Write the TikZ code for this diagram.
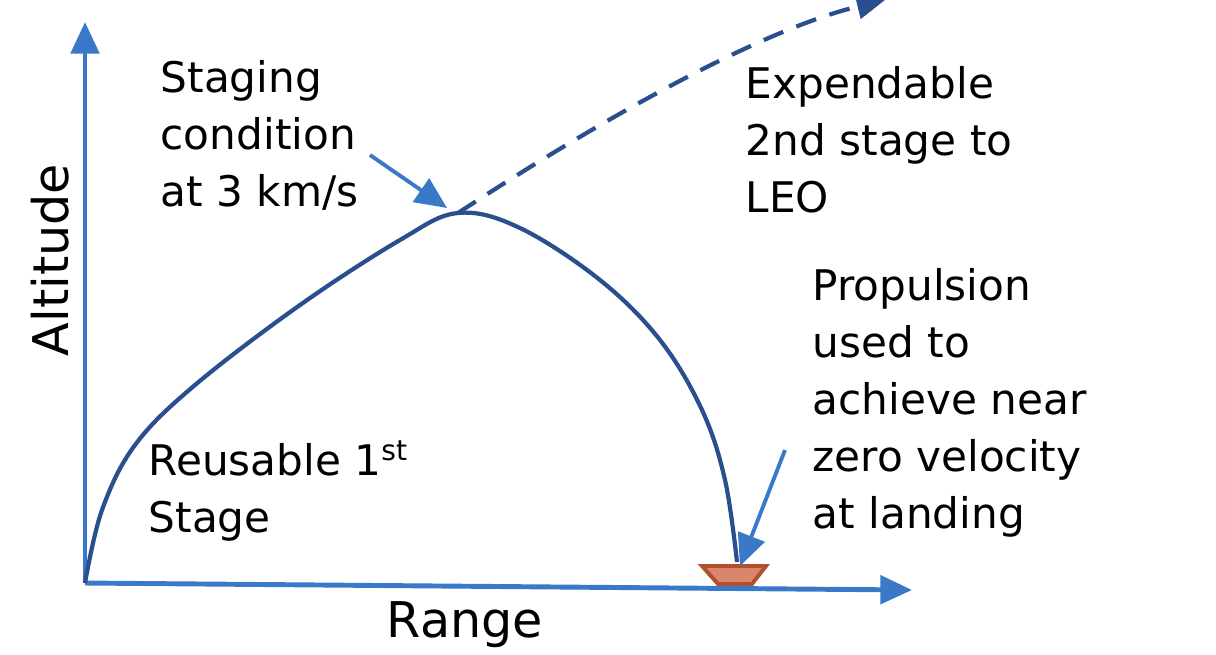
\documentclass[tikz,border=0pt]{standalone}
\usepackage{fontspec}
\setmainfont{DejaVu Sans}
\usepackage{xcolor}
\usetikzlibrary{arrows.meta}
\definecolor{axisblue}{HTML}{3A78C8}
\definecolor{pathblue}{HTML}{2A4F8F}
\definecolor{padfill}{HTML}{D9866B}
\definecolor{padline}{HTML}{B0502D}
\tikzset{
  axis/.style={color=axisblue, line width=1.4pt, -{Triangle[length=9pt,width=8pt]}},
  pointer/.style={color=axisblue, line width=1.1pt, -{Triangle[length=9pt,width=8pt]}},
  label/.style={align=left, anchor=north west, inner sep=0pt, font=\fontsize{12}{16.2}\selectfont}
}
\begin{document}
\begin{tikzpicture}[x=0.01cm, y=-0.01cm]
\useasboundingbox (0,0) rectangle (1216,654);

\coordinate (origin) at (85,583);
\coordinate (ytop) at (85,22);
\coordinate (xend) at (912,590);
\coordinate (peak) at (458,213);
\coordinate (landing) at (737,562);
\coordinate (orbit) at (885,0);

\draw[axis] (origin)--(ytop);
\draw[axis] (origin)--(xend);

\draw[color=pathblue, line width=1.2pt] plot[smooth, tension=0.6] coordinates {
  (85,583) (102,510) (135,445) (195,385) (300,305) (400,240) (458,213)
  (520,228) (600,280) (660,340) (702,410) (725,480) (737,562)};
\draw[color=pathblue, line width=1.2pt, dash pattern=on 6pt off 4pt, -{Triangle[length=8pt,width=7pt]}]
  (peak) .. controls (600,120) and (760,30) .. (orbit);

\draw[color=padline, fill=padfill, line width=1.1pt] (702,566)--(766,566)--(752,584)--(718,584)--cycle;

\coordinate (stagingtip) at (370,155);
\coordinate (landingtip) at (785,450);
\draw[pointer] (stagingtip)--(447,208);
\draw[pointer] (landingtip)--(740,566);

\node[label] (staging) at (160,60) {Staging\\condition\\at 3 km/s};
\node[label] (expend) at (745,66) {Expendable\\2nd stage to\\LEO};
\node[label] (propul) at (812,268) {Propulsion\\used to\\achieve near\\zero velocity\\at landing};
\node[label] (reuse) at (148,440) {Reusable 1\textsuperscript{st}\\Stage};
\node[font=\fontsize{14}{18}\selectfont] (range) at (465,625) {Range};
\node[font=\fontsize{14}{18}\selectfont, rotate=90] (alt) at (50,260) {Altitude};
\end{tikzpicture}
\end{document}
